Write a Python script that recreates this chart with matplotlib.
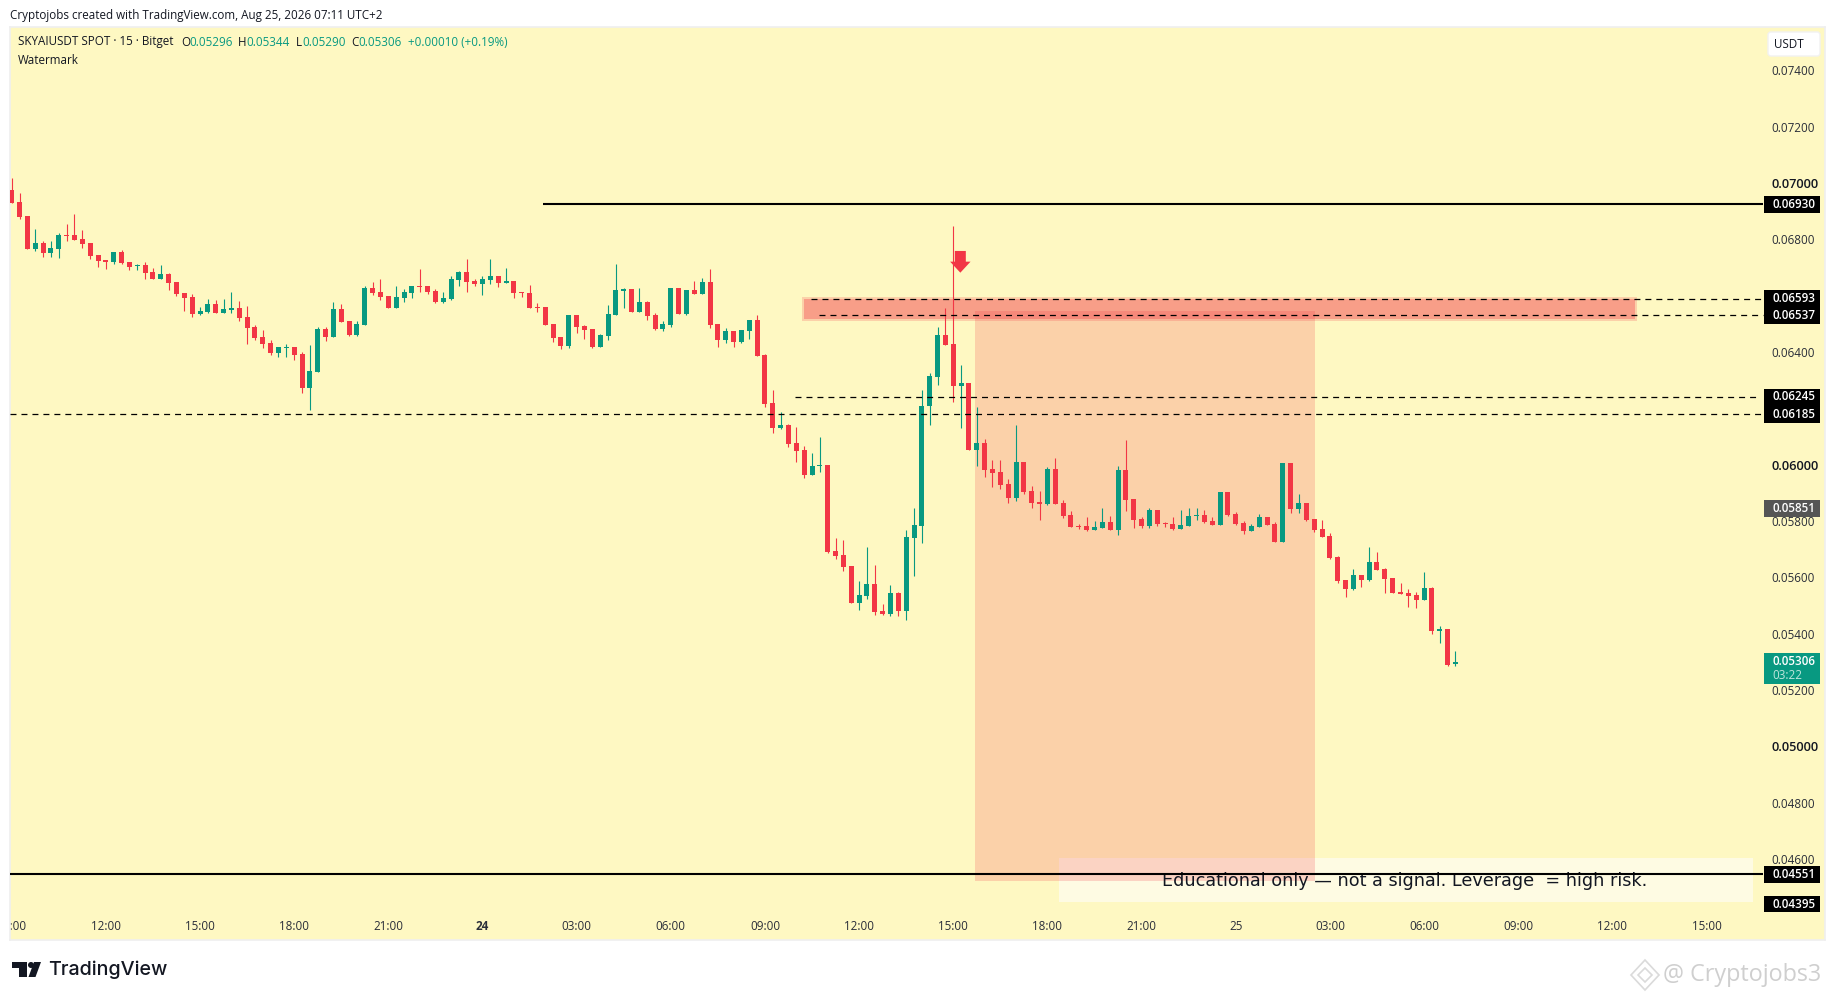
import matplotlib
matplotlib.use('Agg')
import matplotlib.pyplot as plt
from matplotlib.patches import Rectangle, FancyBboxPatch, Circle, Polygon
from matplotlib.transforms import ScaledTranslation
import numpy as np

plt.rcParams['font.family'] = ['Open Sans', 'DejaVu Sans']
plt.rcParams['lines.scale_dashes'] = False

# 15 minute candles, prices in 0.00001 USDT
opens = [6980,6938,6888,6772,6792,6758,6772,6821,6821,6806,
         6792,6750,6732,6726,6760,6725,6712,6714,6689,6666,
         6682,6654,6615,6600,6541,6547,6576,6545,6555,6561,
         6529,6494,6458,6437,6403,6421,6423,6398,6279,6335,
         6487,6460,6558,6515,6467,6502,6632,6618,6604,6563,
         6598,6616,6640,6640,6622,6584,6593,6662,6689,6657,
         6648,6662,6675,6651,6657,6618,6615,6565,6565,6505,
         6458,6428,6537,6498,6487,6424,6463,6538,6623,6629,
         6548,6583,6537,6488,6502,6632,6541,6625,6612,6654,
         6505,6449,6480,6442,6481,6519,6395,6224,6137,6146,
         6082,6057,5970,6000,6004,5699,5684,5645,5515,5540,
         5581,5486,5476,5549,5487,5746,5788,6215,6318,6466,
         6434,6286,6295,6058,6082,5990,5979,5936,5888,6015,
         5912,5873,5867,5990,5869,5826,5787,5787,5773,5780,
         5802,5773,5986,5883,5812,5787,5844,5798,5794,5777,
         5787,5823,5826,5805,5791,5908,5830,5798,5771,5785,
         5819,5794,5732,6011,5849,5869,5812,5777,5752,5677,
         5596,5564,5613,5597,5660,5635,5603,5553,5549,5542,
         5526,5567,5416,5422,5296]
highs = [7023,6970,6888,6842,6799,6799,6828,6860,6895,6838,
         6792,6750,6732,6760,6767,6725,6718,6725,6703,6714,
         6686,6654,6615,6611,6565,6593,6590,6593,6618,6586,
         6569,6501,6483,6448,6423,6434,6423,6405,6430,6494,
         6494,6583,6576,6515,6515,6640,6654,6664,6604,6640,
         6629,6640,6700,6640,6629,6618,6675,6693,6735,6664,
         6675,6735,6675,6703,6657,6618,6643,6579,6565,6505,
         6458,6537,6537,6501,6487,6469,6572,6718,6632,6629,
         6632,6586,6544,6515,6632,6632,6625,6657,6668,6700,
         6505,6490,6480,6483,6519,6537,6398,6270,6192,6150,
         6139,6071,6047,6103,6004,5745,5738,5645,5592,5713,
         5649,5510,5578,5553,5773,5851,6270,6331,6494,6561,
         6853,6359,6295,6210,6096,6022,6022,5954,6146,6015,
         5929,5912,5997,6029,5880,5841,5794,5819,5805,5851,
         5823,6000,6093,5883,5819,5851,5844,5802,5819,5844,
         5851,5851,5844,5819,5908,5908,5837,5805,5794,5830,
         5819,5802,6011,6011,5901,5869,5812,5809,5762,5681,
         5596,5635,5613,5713,5695,5638,5603,5585,5564,5553,
         5624,5571,5432,5422,5344]
lows = [6935,6879,6772,6765,6744,6744,6740,6801,6803,6776,
        6737,6708,6701,6719,6719,6698,6698,6666,6666,6666,
        6627,6605,6552,6531,6538,6544,6545,6545,6545,6516,
        6435,6449,6421,6396,6389,6389,6378,6261,6200,6335,
        6445,6460,6513,6463,6463,6502,6609,6591,6563,6563,
        6584,6598,6619,6612,6580,6580,6591,6641,6619,6641,
        6609,6648,6637,6651,6598,6602,6563,6548,6502,6442,
        6417,6421,6474,6453,6421,6424,6449,6538,6563,6548,
        6548,6520,6485,6481,6495,6541,6538,6612,6612,6492,
        6424,6438,6424,6438,6453,6392,6211,6119,6133,6069,
        6016,5959,5970,5980,5693,5671,5629,5515,5490,5529,
        5472,5472,5469,5469,5455,5611,5728,6147,6289,6431,
        6229,6137,6058,6002,5962,5927,5920,5870,5877,5902,
        5852,5810,5863,5867,5817,5785,5777,5770,5773,5780,
        5773,5755,5841,5780,5780,5780,5787,5784,5773,5777,
        5787,5809,5798,5791,5791,5823,5791,5759,5770,5785,
        5792,5732,5732,5835,5835,5806,5767,5749,5671,5586,
        5536,5561,5572,5593,5632,5551,5551,5547,5501,5497,
        5526,5405,5373,5291,5290]
closes = [6935,6886,6772,6792,6758,6775,6821,6817,6803,6790,
          6747,6730,6726,6760,6722,6708,6715,6687,6666,6682,
          6651,6612,6598,6541,6551,6576,6545,6558,6561,6527,
          6492,6456,6435,6403,6423,6423,6396,6279,6338,6487,
          6460,6558,6513,6467,6505,6632,6616,6602,6563,6600,
          6618,6640,6636,6619,6584,6597,6664,6689,6655,6648,
          6664,6675,6651,6657,6616,6616,6563,6563,6502,6456,
          6428,6537,6495,6485,6424,6466,6540,6625,6629,6548,
          6583,6534,6488,6505,6632,6541,6625,6612,6654,6502,
          6449,6480,6442,6483,6519,6392,6222,6137,6146,6080,
          6055,5970,6000,6004,5696,5682,5643,5515,5542,5581,
          5483,5476,5549,5487,5748,5791,6213,6320,6466,6431,
          6286,6295,6058,6082,5987,5975,5933,5888,6015,5908,
          5870,5867,5990,5867,5823,5785,5784,5773,5784,5802,
          5773,5986,5880,5809,5787,5844,5794,5794,5777,5791,
          5823,5826,5802,5791,5908,5826,5794,5771,5787,5819,
          5792,5732,6011,5849,5869,5810,5774,5749,5675,5593,
          5565,5613,5597,5660,5632,5600,5551,5547,5540,5526,
          5567,5416,5422,5295,5306]

ytick_values = [0.074, 0.072, 0.070, 0.068, 0.064, 0.060, 0.058, 0.056, 0.054, 0.052, 0.050, 0.048, 0.046]
bold_yticks = [0.070, 0.060, 0.050]
xtick_pos = [0, 12, 24, 36, 48, 60, 72, 84, 96, 108, 120, 132, 144, 156, 168, 180, 192, 204, 216]
xtick_labels = ['09:00', '12:00', '15:00', '18:00', '21:00', '24', '03:00', '06:00', '09:00', '12:00',
                '15:00', '18:00', '21:00', '25', '03:00', '06:00', '09:00', '12:00', '15:00']

BG = '#FEF8C2'
RED = '#F23645'
GREEN = '#089981'
TXT = '#2A2E39'

fig = plt.figure(figsize=(18.35, 10), dpi=100, facecolor='white')
ax = fig.add_axes([10 / 1835, 60 / 1000, 1815 / 1835, 913 / 1000], facecolor=BG)
ax.set_xlim(-0.217, 231.1)
ax.set_ylim(0.043171, 0.075593)

o = np.array(opens) / 1e5
h = np.array(highs) / 1e5
l = np.array(lows) / 1e5
c = np.array(closes) / 1e5
idx = np.arange(len(o))
colors = [GREEN if c[i] >= o[i] else RED for i in idx]

# note box goes under the short position box
ax.add_patch(Rectangle((133.5, 0.044534), 88.4, 0.001549, fc='white', ec='none', alpha=0.55, zorder=1))
ax.add_patch(Rectangle((122.8, 0.045267), 43.3, 0.020241, fc=RED, ec='none', alpha=0.2, zorder=2))
ax.add_patch(Rectangle((100.7, 0.065153), 106.4, 0.000852, fc=RED, ec='none', alpha=0.2, zorder=2))
ax.add_patch(Rectangle((100.95, 0.065224), 105.9, 0.000710, fc=RED, ec='none', alpha=0.33, zorder=2))

ax.vlines(idx, l, h, colors=colors, linewidth=0.8, zorder=3)
ax.bar(idx, np.maximum(np.abs(c - o), 0.00003), bottom=np.minimum(o, c), width=0.64, color=colors, linewidth=0, zorder=3)

# levels
ax.hlines(0.0693, 67.7, 223.2, colors='black', linewidth=1.5, zorder=4)
ax.hlines(0.04551, -0.217, 223.2, colors='black', linewidth=1.5, zorder=4)
dash = (0, (4.3, 3.6))
ax.hlines(0.06593, 101.9, 223.2, colors='black', linewidth=0.9, linestyles=[dash], zorder=4)
ax.hlines(0.06537, 102.9, 223.2, colors='black', linewidth=0.9, linestyles=[dash], zorder=4)
ax.hlines(0.06245, 99.8, 222.4, colors='black', linewidth=0.9, linestyles=[dash], zorder=4)
ax.hlines(0.06185, -0.217, 223.2, colors='black', linewidth=0.9, linestyles=[dash], zorder=4)

# signal arrow
ax.fill([120.2, 121.6, 121.6, 122.2, 120.9, 119.6, 120.2], [0.06764, 0.06764, 0.06726, 0.06726, 0.066868, 0.06726, 0.06726],
        color=RED, linewidth=0, zorder=5)

ax.text(177.5, 0.04528, 'Educational only \u2014 not a signal. Leverage  = high risk.', fontsize=12.7,
        family=['DejaVu Sans'], color='#131722', ha='center', va='center', zorder=3.5)

# axes
ax.set_yticks(ytick_values)
ax.set_yticklabels(['%.5f' % v for v in ytick_values])
ax.set_xticks(xtick_pos)
ax.set_xticklabels(xtick_labels)
ax.tick_params(axis='y', left=False, right=False, labelleft=False, labelright=True, pad=-42, labelsize=8.4, labelcolor=TXT)
ax.tick_params(axis='x', bottom=False, pad=-18, labelsize=8.4, labelcolor=TXT)
nudge = ScaledTranslation(0, 1.5 / 100, fig.dpi_scale_trans)
for tick, v in zip(ax.yaxis.get_major_ticks(), ytick_values):
    lab = tick.label2
    lab.set_transform(lab.get_transform() + nudge)
    if v in bold_yticks:
        lab.set_fontweight('semibold')
        lab.set_fontsize(9.2)
        lab.set_color('#131722')
for lab, t in zip(ax.get_xticklabels(), xtick_labels):
    if t == '24':
        lab.set_fontweight('bold')
ax.get_xticklabels()[0].set_clip_on(True)
ax.get_xticklabels()[0].set_clip_box(ax.bbox)
for s in ax.spines.values():
    s.set_color('#EFEFEF')
    s.set_linewidth(1.2)

# everything around the chart, in image pixels
top = fig.add_axes([0, 0, 1, 1], facecolor='none')
top.set_xlim(0, 1835)
top.set_ylim(1000, 0)
top.axis('off')

top.text(10, 15, 'Cryptojobs created with TradingView.com, Aug 25, 2026 07:11 UTC+2', fontsize=8.4, color='#131722', va='center')
top.text(18, 42, 'SKYAIUSDT SPOT \u00b7 15 \u00b7 Bitget', fontsize=8.4, color='#131722', va='center')
top.text(18, 60, 'Watermark', fontsize=8.4, color='#131722', va='center')
ohlc_x = [181, 238, 296, 351]
ohlc_names = ['O', 'H', 'L', 'C']
ohlc_vals = ['0.05296', '0.05344', '0.05290', '0.05306']
ohlc_val_x = [189, 246.5, 302, 358]
for a, n, b, v in zip(ohlc_x, ohlc_names, ohlc_val_x, ohlc_vals):
    top.text(a, 42, n, fontsize=8.4, color='#131722', va='center')
    top.text(b, 42, v, fontsize=8.4, color=GREEN, va='center')
top.text(407.5, 42, '+0.00010 (+0.19%)', fontsize=8.4, color=GREEN, va='center')

top.add_patch(FancyBboxPatch((1768, 32), 52, 24, boxstyle='round,pad=0,rounding_size=3', fc='white', ec='#F2F2F2', lw=1,
                             mutation_aspect=1))
top.text(1789, 44.5, 'USDT', fontsize=8.4, color='#131722', ha='center', va='center')

# price labels on the scale
label_boxes = [(196, 212.7, 'black'), (290.3, 323.7, 'black'), (389, 422.7, 'black'), (500, 516.7, '#555555'),
               (653, 683.7, GREEN), (866, 882.7, 'black'), (896, 912, 'black')]
for y0, y1, col in label_boxes:
    top.add_patch(Rectangle((1764, y0), 56, y1 - y0, fc=col, ec='none'))
label_y = [204, 299, 315.5, 397, 414, 508.5, 661.5, 874.5, 904.5]
label_txt = ['0.06930', '0.06593', '0.06537', '0.06245', '0.06185', '0.05851', '0.05306', '0.04551', '0.04395']
for y, t in zip(label_y, label_txt):
    top.text(1772, y, t, fontsize=8.4, color='white', fontweight='semibold', va='center')
top.text(1772, 675.5, '03:22', fontsize=8.4, color='#BFE6DC', va='center')

# TradingView logo
top.add_patch(Polygon([(12, 962), (27, 962), (27, 977), (19, 977), (19, 968), (12, 968)], fc='#131722', ec='none'))
top.add_patch(Circle((31, 965), 3, fc='#131722', ec='none'))
top.add_patch(Polygon([(34, 962), (41, 962), (35.5, 977), (28.5, 977)], fc='#131722', ec='none'))
top.text(48, 969.5, 'TradingView', fontsize=14.2, family=['Inter'], fontweight='medium', color='#131722', va='center')

# site watermark bottom right
top.add_patch(Polygon([(1645, 960), (1659, 975), (1645, 990), (1631, 975)], fc='white', ec='#DADADA', lw=1.2))
top.add_patch(Polygon([(1645, 968), (1652, 975), (1645, 982), (1638, 975)], fc='white', ec='#DADADA', lw=1.2))
top.text(1663, 975, '@ Cryptojobs3', fontsize=16.8, color='#CFCFCF', va='center')

fig.savefig('out.png', dpi=100, facecolor='white')
